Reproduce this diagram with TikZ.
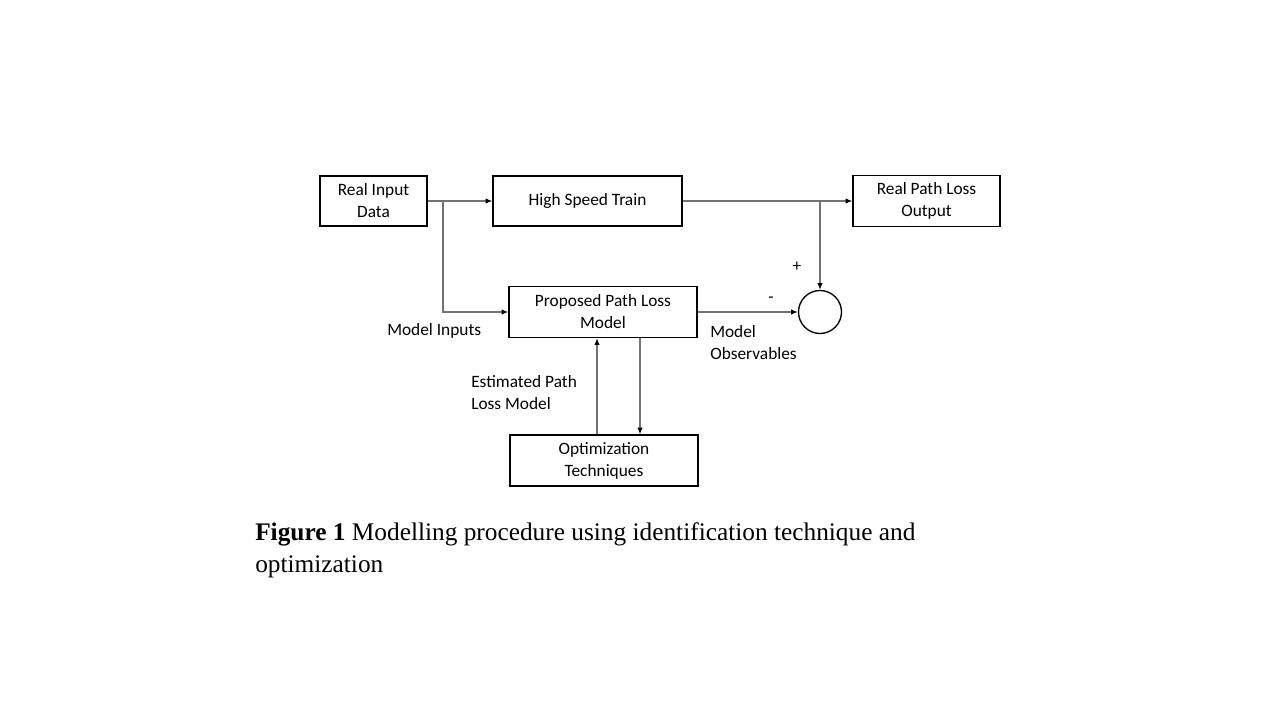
\documentclass[tikz,border=0pt]{standalone}
\usepackage{fontspec}
\setmainfont{Carlito}
\newfontfamily\capfont{Liberation Serif}
\usetikzlibrary{arrows.meta}
\begin{document}
\begin{tikzpicture}[x=0.75pt,y=-0.75pt,
  blk/.style={draw=black,line width=1pt,inner sep=0pt,align=center,font=\fontsize{13}{16.5}\selectfont},
  conn/.style={draw=black!55,line width=0.9pt},
  arr/.style={conn,-{Latex[length=5pt,width=4pt,black]}},
  lbl/.style={font=\fontsize{13}{17}\selectfont,align=left,inner sep=0pt}]
\useasboundingbox (0,0) rectangle (1280,720);
\node[blk,minimum width=107*0.75pt,minimum height=50*0.75pt] (rid) at (373.5,201) {Real Input\\Data};
\node[blk,minimum width=189*0.75pt,minimum height=50*0.75pt] (hst) at (587.5,201) {High Speed Train};
\node[blk,minimum width=147*0.75pt,minimum height=51*0.75pt] (rplo) at (926.5,201) {Real Path Loss\\Output};
\node[blk,minimum width=188*0.75pt,minimum height=51*0.75pt] (ppl) at (603,312) {Proposed Path Loss\\Model};
\node[blk,minimum width=188*0.75pt,minimum height=51*0.75pt] (opt) at (604,460.5) {Optimization\\Techniques};
\node[circle,draw=black,line width=1pt,minimum size=43*0.75pt,inner sep=0pt] (sum) at (820,312) {};
\coordinate (b1) at (443,201);
\coordinate (b2) at (820,201);
\draw[arr] (rid.east) -- (hst.west);
\draw[arr] (hst.east) -- (rplo.west);
\draw[arr] (b1) |- (ppl.west);
\draw[arr] (b2) -- (sum.north);
\draw[arr] (ppl.east) -- (sum.west);
\draw[arr] (opt.north -| 597,0) -- (ppl.south -| 597,0);
\draw[arr] (ppl.south -| 640,0) -- (opt.north -| 640,0);
\node[lbl] (plus) at (797,267) {+};
\node[lbl] (minus) at (771,300) {-};
\node[lbl,anchor=west] (mi) at (387,331) {Model Inputs};
\node[lbl,anchor=north west] (mo) at (710,325) {Model\\Observables};
\node[lbl,anchor=north west] (epl) at (471,375) {Estimated Path\\Loss Model};
\node[anchor=north west,inner sep=0pt,align=left,font=\capfont\fontsize{19}{24}\selectfont] (cap) at (255,522)
  {\textbf{Figure 1} Modelling procedure using identification technique and\\optimization};
\end{tikzpicture}
\end{document}
